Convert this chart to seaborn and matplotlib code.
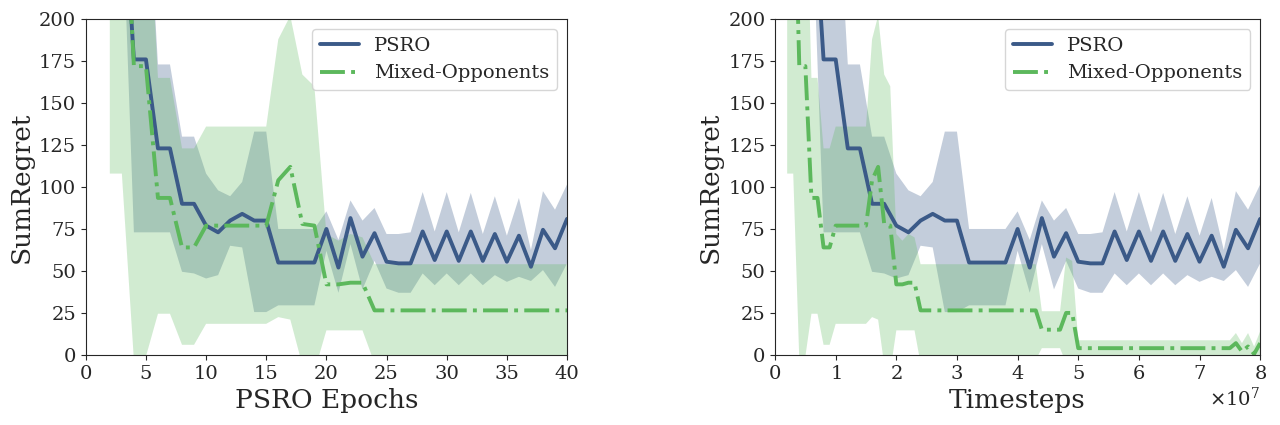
import numpy as np
import seaborn as sns
import matplotlib.pyplot as plt
from matplotlib.ticker import ScalarFormatter

# PSRO: mean and band per epoch
psro_epochs = list(range(2, 41))
psro_mean = [450, 290, 176, 176, 123, 123, 90, 90, 77, 73,
             80, 84, 80, 80, 55, 55, 55, 55, 75, 52,
             81.5, 58.5, 72.5, 55.5, 54.5, 54.5, 73.5, 56.5, 73.5, 56,
             73.5, 56, 72, 55.5, 71, 52.5, 74.5, 63.5, 81]
psro_hi = [600, 400, 320, 300, 173, 173, 130, 130, 108, 98,
           94.5, 103, 133, 133, 75, 75, 75, 75, 85.5, 68.5,
           92, 80, 87.5, 72, 72, 73, 97, 73.5, 97, 73,
           96.5, 72, 94.5, 71, 93.5, 62.5, 97.5, 86.5, 101.5]
psro_lo = [400, 275, 73, 73, 73, 73, 49.5, 48.5, 45.5, 47.5,
           65, 64, 25.5, 25.5, 29.5, 29.5, 29.5, 29.5, 62, 37,
           66, 39, 56, 39.5, 37, 37, 48.5, 41.5, 48.5, 41.5,
           48.5, 41.5, 47.5, 43.5, 46.5, 44, 50.5, 40.5, 54.5]

# Mixed-Opponents: mean and band per epoch
mo_epochs = list(range(2, 81))
mo_mean = [500, 312, 172, 172, 93.5, 93.5, 64, 64, 77, 77,
           77, 77, 77, 77, 104, 112, 78, 77, 42, 42,
           43, 43, 26.5, 26.5, 26.5, 26.5, 26.5, 26.5, 26.5, 26.5,
           26.5, 26.5, 26.5, 26.5, 26.5, 26.5, 26.5, 26.5, 26.5, 26.5,
           26.5, 26.5, 15, 15, 15, 15, 25, 25, 4, 4,
           4, 4, 4, 4, 4, 4, 4, 4, 4, 4,
           4, 4, 4, 4, 4, 4, 4, 4, 4, 4,
           4, 4, 4, 4, 7, 2, 5, 0.5, 7]
mo_hi = [900, 700, 400, 300, 165, 165, 123, 123, 136, 136,
         136, 136, 136, 136, 188, 202, 167, 160, 72, 68,
         72, 70, 54, 54, 54, 54, 54, 54, 54, 54,
         54, 54, 54, 54, 54, 54, 54, 54, 54, 54,
         54, 54, 26, 26, 26, 26, 58, 56, 8.7, 8.7,
         8.7, 8.7, 8.7, 8.7, 8.7, 8.7, 8.7, 8.7, 8.7, 8.7,
         8.7, 8.7, 8.7, 8.7, 8.7, 8.7, 8.7, 8.7, 8.7, 8.7,
         8.7, 8.7, 8.7, 8.7, 13, 7, 13, 5, 14]
mo_lo = [108, 108, -3, -1, 24.5, 24.5, 6, 6, 18.5, 18.5,
         18.5, 18.5, 18.5, 18.5, 22.5, 21, -6, -10, 14.6, 14.6,
         14.6, 14.6, -5, -5, -5, -5, -5, -5, -5, -5,
         -5, -5, -5, -5, -5, -5, -5, -5, -5, -5,
         -5, -3, 4, 4, 4, 4, -5, -5, -3, -3,
         -3, -3, -3, -3, -3, -3, -3, -3, -3, -3,
         -3, -3, -3, -3, -3, -3, -3, -3, -3, -3,
         -3, -3, -3, -3, -3, -3, -3, -5, -3]

psro_steps_per_epoch = 2_000_000
mo_steps_per_epoch = 1_000_000

psro_color = '#3b5a88'
mo_color = '#5cb85c'

sns.set_style('ticks')
plt.rcParams['font.family'] = ['DejaVu Serif']

fig = plt.figure(figsize=(12.8, 4.25), dpi=100)
ax1 = fig.add_axes([0.067, 0.165, 0.376, 0.79])
ax2 = fig.add_axes([0.6055, 0.165, 0.379, 0.79])


def draw(ax, px, mx):
    ax.fill_between(px, psro_lo, psro_hi, color=psro_color, alpha=0.3, lw=0)
    ax.fill_between(mx, mo_lo, mo_hi, color=mo_color, alpha=0.28, lw=0)
    sns.lineplot(x=px, y=psro_mean, ax=ax, color=psro_color, lw=2.8, label='PSRO')
    sns.lineplot(x=mx, y=mo_mean, ax=ax, color=mo_color, lw=2.8, linestyle='-.',
                 label='Mixed-Opponents')
    ax.set_ylim(0, 200)
    ax.set_yticks(range(0, 201, 25))
    ax.set_ylabel('SumRegret', fontsize=19)
    ax.tick_params(labelsize=14)
    ax.legend(loc='upper right', fontsize=14, framealpha=0.8)


draw(ax1, np.array(psro_epochs), np.array(mo_epochs))
ax1.set_xlim(0, 40)
ax1.set_xlabel('PSRO Epochs', fontsize=19)

draw(ax2, np.array(psro_epochs) * psro_steps_per_epoch,
     np.array(mo_epochs) * mo_steps_per_epoch)
ax2.set_xlim(0, 8e7)
ax2.set_xlabel('Timesteps', fontsize=19)
fmt = ScalarFormatter(useMathText=True)
fmt.set_powerlimits((0, 0))
ax2.xaxis.set_major_formatter(fmt)
ax2.xaxis.get_offset_text().set_fontsize(14)

fig.savefig('out.png', dpi=100)
